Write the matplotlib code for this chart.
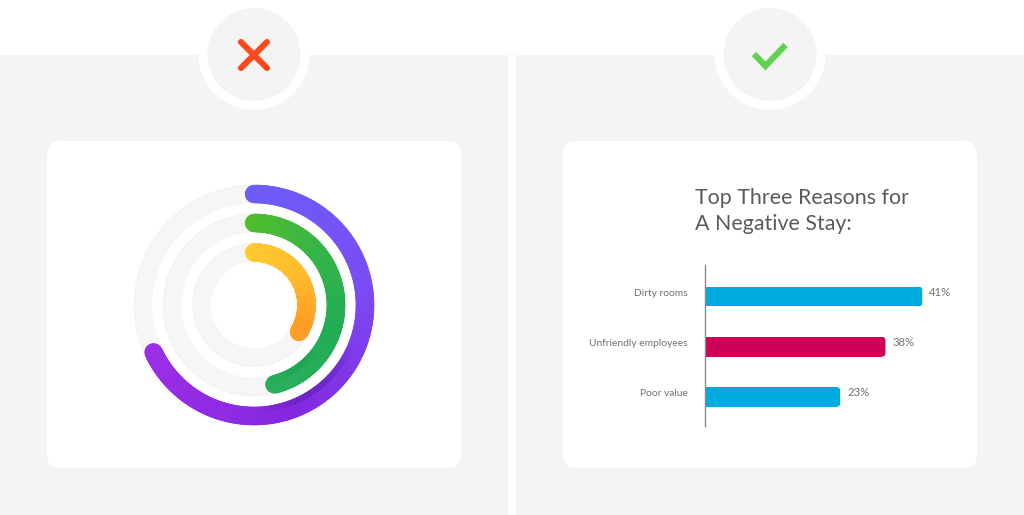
import numpy as np
import matplotlib
matplotlib.use('Agg')
import matplotlib.pyplot as plt
import matplotlib.patches as pt
from matplotlib.colors import LinearSegmentedColormap
from matplotlib.transforms import ScaledTranslation

plt.rcParams['font.family'] = ['Lato', 'DejaVu Sans']

# ring chart, percent of a full turn
ring_values = [68, 46, 33.6]
ring_radius = [111, 82, 52.5]
ring_colors = [["#6C5DF6", "#7A4DF5", "#8428E0", "#9A2EE6"],
               ["#52BD2E", "#35B548", "#22AD55", "#2AAE5C"],
               ["#FFCB30", "#FFBC2C", "#FF9E26"]]

# bars: lengths as drawn, labels as printed
categories = ["Dirty rooms", "Unfriendly employees", "Poor value"]
bar_lengths = [41, 34.05, 25.5]
bar_labels = ["41%", "38%", "23%"]
bar_colors = ["#00A9E0", "#CE0058", "#00A9E0"]
title = "Top Three Reasons for\nA Negative Stay:"

W, H = 1024, 515
fig = plt.figure(figsize=(W/100, H/100), dpi=100, facecolor="white")


def px_axes(x0, y0, x1, y1, **kw):
    return fig.add_axes([x0/W, 1-y1/H, (x1-x0)/W, (y1-y0)/H], **kw)


# background panels, cards and badges, in pixels
bg = fig.add_axes([0, 0, 1, 1])
bg.set_xlim(0, W)
bg.set_ylim(H, 0)
bg.axis("off")
gray = "#F4F4F4"
for x0, x1 in [(0, 507.5), (516, 1024)]:
    bg.add_patch(pt.Rectangle((x0, 55), x1-x0, H-55, fc=gray, ec="none"))
for x0 in [47, 563]:
    bg.add_patch(pt.FancyBboxPatch((x0, 141), 414, 327, boxstyle="round,pad=0,rounding_size=13",
                                   fc="white", ec="none"))
for cx in [254, 770]:
    bg.add_patch(pt.Circle((cx, 54.5), 55.5, fc="white", ec="none"))
    bg.add_patch(pt.Circle((cx, 54.5), 46.5, fc=gray, ec="none"))
bg.plot([241, 267], [42, 68], color="#FB4B1E", lw=4.4, solid_capstyle="round")
bg.plot([241, 267], [68, 42], color="#FB4B1E", lw=4.4, solid_capstyle="round")
bg.plot([754, 765.5, 785.5], [54, 66, 45], color="#5FD24F", lw=4.4, solid_joinstyle="miter", solid_capstyle="butt")

# rings
cx, cy, rmax = 254, 305, 125
pol = px_axes(cx-rmax, cy-rmax, cx+rmax, cy+rmax, projection="polar")
pol.patch.set_alpha(0)
pol.set_theta_zero_location("N")
pol.set_theta_direction(-1)
pol.set_ylim(0, rmax)
pol.axis("off")
lw = 18.5*0.72
full = np.linspace(0, 2*np.pi, 300)
for val, r, cols in zip(ring_values, ring_radius, ring_colors):
    pol.plot(full, np.full(300, r), color="#F6F6F6", lw=lw)
    pol.plot(full, np.full(300, r+8.5), color="#F3F3F3", lw=1.0)
    cmap = LinearSegmentedColormap.from_list("ring", cols)
    th = np.linspace(0, val/100*2*np.pi, 160)
    # thin white edge round the arc
    pol.plot(th, np.full(160, r), color="#FDFDFD", lw=lw+2, solid_capstyle="round")
    for i in range(len(th)-1):
        pol.plot(th[i:i+2], [r, r], color=cmap(i/(len(th)-2)), lw=lw, solid_capstyle="round")

# soft shade on the inner edge of the two long arcs
for r, a0, a1, col, alpha in [(104.5, 112, 178, "#4A189C", 0.38), (76, 125, 165, "#0E7F45", 0.18)]:
    th = np.radians(np.linspace(a0, a1, 60))
    for i in range(len(th)-1):
        pol.plot(th[i:i+2], [r, r], color=col, lw=4.5, alpha=alpha*np.sin(np.pi*i/58), solid_capstyle="butt")

# bars
scale = 5.3
top, bottom, step = 265, 426, 50.25
ax = px_axes(705, top, 977, bottom)
ax.patch.set_alpha(0)
ax.set_xlim(0, (977-705)/scale)
ax.set_ylim((bottom-296.5)/step, (top-296.5)/step)
pos = np.arange(len(categories))
h = 19.5/step
rnd = 0.65
ax.barh(pos, np.array(bar_lengths)-rnd, height=h, color=bar_colors)
for p, v, c, lab in zip(pos, bar_lengths, bar_colors, bar_labels):
    ax.add_patch(pt.FancyBboxPatch((v-2*rnd, p-h/2), 2*rnd, h, boxstyle="round,pad=0,rounding_size=%g" % rnd,
                                   mutation_aspect=scale/step, fc=c, ec="none"))
    ax.annotate(lab, (v, p), xytext=(5, 3), textcoords="offset points", va="center", ha="left",
                fontsize=8.2, color="#707070")
ax.set_yticks(pos, categories)
ax.set_xticks([])
ax.tick_params(axis="y", length=0, pad=12.5, labelsize=7.4, labelcolor="#707070")
up = ScaledTranslation(0, 4/100, fig.dpi_scale_trans)
for t in ax.get_yticklabels():
    t.set_transform(t.get_transform()+up)
for s in ["top", "right", "bottom"]:
    ax.spines[s].set_visible(False)
ax.spines["left"].set_color("#8A8A8A")
ax.spines["left"].set_linewidth(1)

bg.text(695, 211, title, fontsize=15.4, color="#5A5A5A", va="center", ha="left", linespacing=1.42)

fig.savefig("out.png", dpi=100)
